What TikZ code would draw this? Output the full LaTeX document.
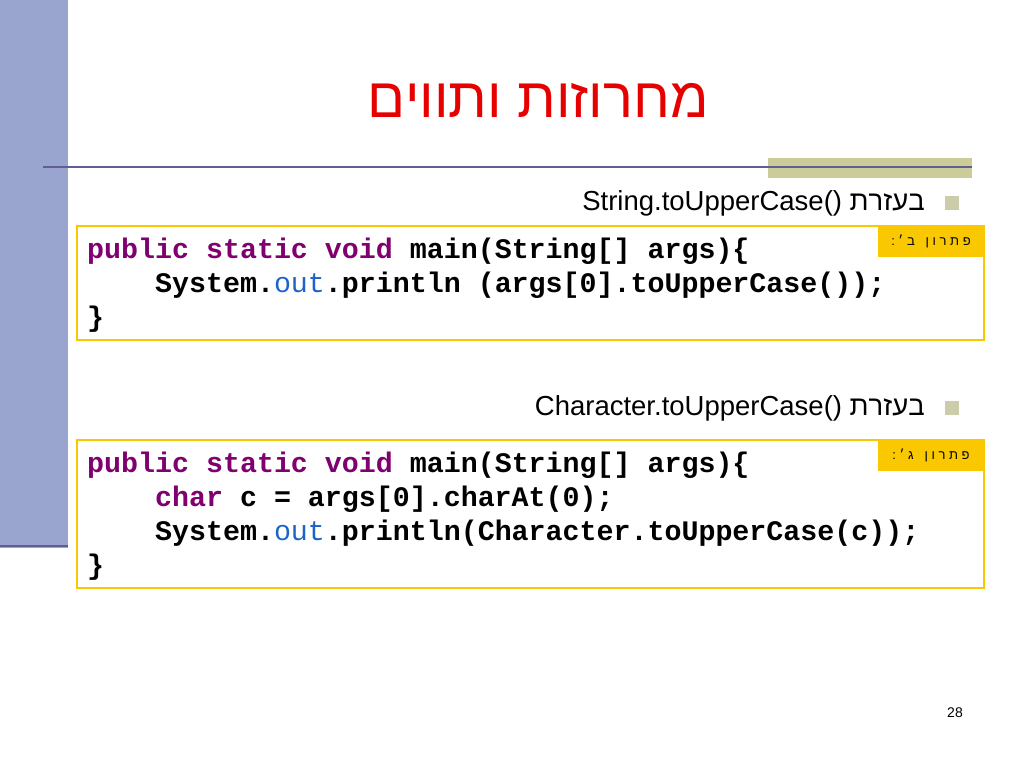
\documentclass[tikz,border=0pt]{standalone}
\usepackage{fontspec}
\setmainfont{Liberation Sans}
\newfontfamily\codefont{Liberation Mono}
\TeXXeTstate=1
\definecolor{barblue}{RGB}{153,165,206}
\definecolor{darkline}{RGB}{95,95,150}
\definecolor{olive}{RGB}{204,204,153}
\definecolor{bul}{RGB}{204,204,170}
\definecolor{gold}{RGB}{250,200,0}
\definecolor{kw}{RGB}{127,0,110}
\definecolor{fld}{RGB}{30,100,200}
\definecolor{titlered}{RGB}{230,0,0}
\tikzset{
 codebox/.style={draw=gold,line width=2.5pt,anchor=north west,inner sep=0pt},
 tag/.style={fill=gold,minimum width=106pt,minimum height=31pt,inner sep=0pt,font=\fontsize{13}{14}\selectfont},
 code/.style={anchor=north west,align=left,inner sep=0pt,font=\codefont\bfseries\fontsize{28.3}{34}\selectfont},
 bullet/.style={fill=bul,minimum size=14pt,inner sep=0pt},
 btext/.style={anchor=east,inner sep=0pt,font=\fontsize{27.5}{30}\selectfont}
}
\newcommand{\K}[1]{\textcolor{kw}{#1}}
\newcommand{\F}[1]{\textcolor{fld}{\mdseries #1}}
\begin{document}
\begin{tikzpicture}[x=1pt,y=-1pt]
\useasboundingbox (0,0) rectangle (1024,768);
\fill[barblue] (0,0) rectangle (68,548);
\draw[darkline,line width=2pt] (0,546) -- (68,546);
\fill[olive] (768,158) rectangle (972,178);
\draw[darkline,line width=2pt] (43,167) -- (972,167);
\node[text=titlered,font=\fontsize{56}{60}\selectfont] (title) at (538,100) {\beginR מחרוזות ותווים\endR};
\node[bullet] (b1) at (952,203) {};
\node[btext] (t1) at (925,203) {\beginR בעזרת \beginL String.toUpperCase()\endL\endR};
\node[bullet] (b2) at (952,408) {};
\node[btext] (t2) at (925,408) {\beginR בעזרת \beginL Character.toUpperCase()\endL\endR};
\draw[gold,line width=2.5pt] (77,226) rectangle (984,340);
\node[tag] (tag1) at (931,241.5) {\beginR פ~ת~ר~ו~ן~~ ב~׳~:\endR};
\node[code] (c1) at (87,238) {\K{public} \K{static} \K{void} main(String[] args)\{\\
\ \ \ \ System.\F{out}.println (args[0].toUpperCase());\\
\}};
\draw[gold,line width=2.5pt] (77,440) rectangle (984,588);
\node[tag] (tag2) at (931,455.5) {\beginR פ~ת~ר~ו~ן~~ ג~׳~:\endR};
\node[code] (c2) at (87,452) {\K{public} \K{static} \K{void} main(String[] args)\{\\
\ \ \ \ \K{char} c = args[0].charAt(0);\\
\ \ \ \ System.\F{out}.println(Character.toUpperCase(c));\\
\}};
\node[font=\fontsize{14}{16}\selectfont] (pg) at (955,713) {28};
\end{tikzpicture}
\end{document}
